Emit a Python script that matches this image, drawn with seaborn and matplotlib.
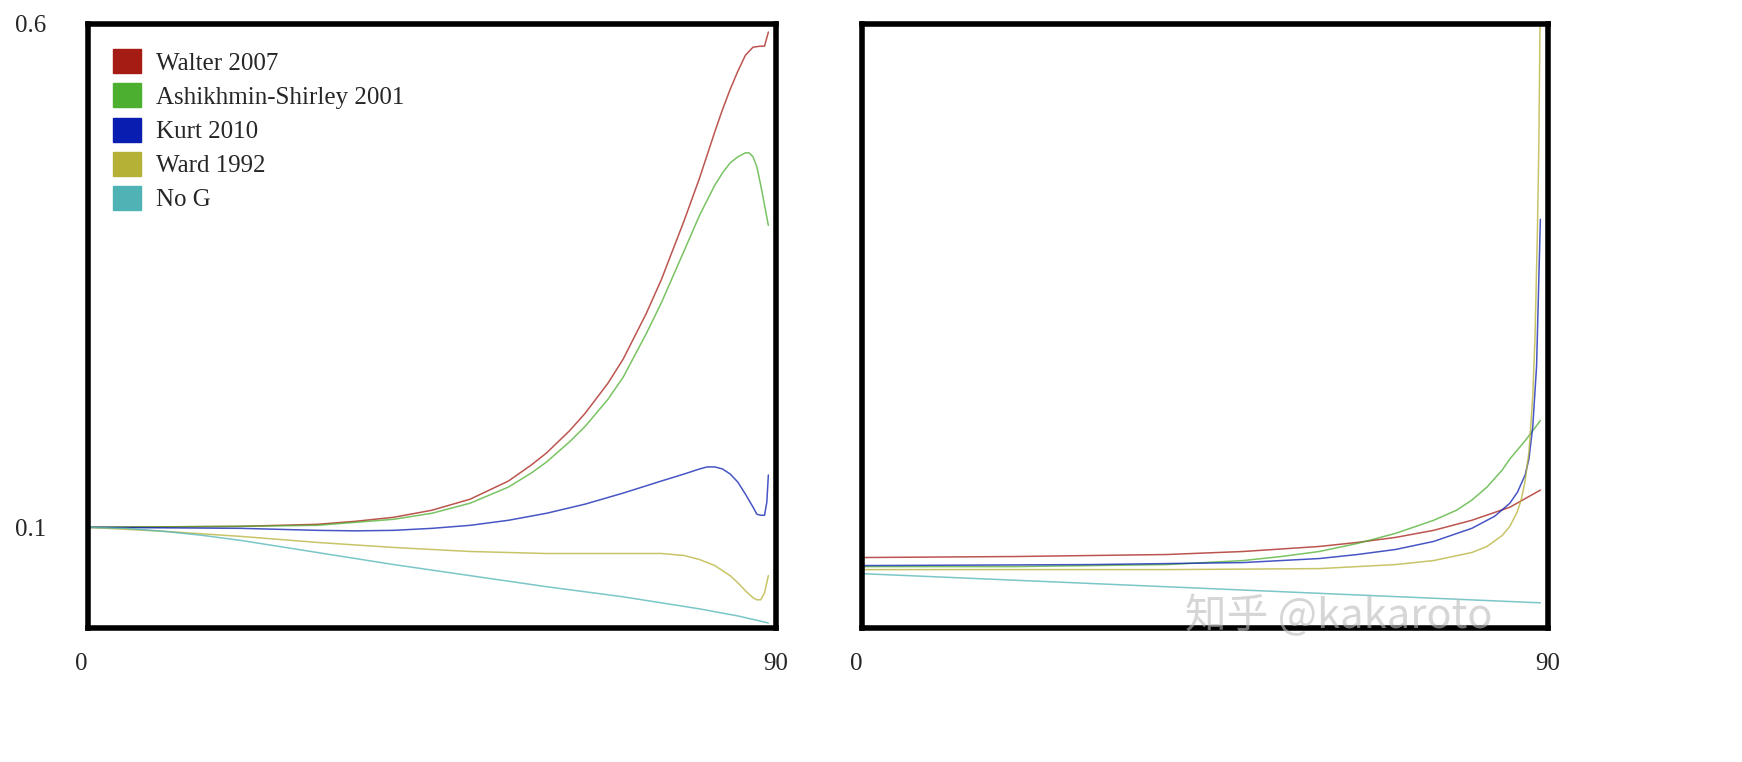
import matplotlib
matplotlib.use("Agg")
import matplotlib.pyplot as plt
import matplotlib.patches as mpatches
import seaborn as sns
import pandas as pd

sns.set_style("white")
plt.rcParams['font.family'] = ['Liberation Serif', 'Noto Sans CJK SC', 'DejaVu Sans']

names = ["Walter 2007", "Ashikhmin-Shirley 2001", "Kurt 2010", "Ward 1992", "No G"]
colors = ["#a51c14", "#4caf2f", "#0a1db1", "#b5b136", "#4fb3b5"]

# Left panel
L_walter_x = [0, 20, 30, 35, 40, 45, 50, 55, 58, 60, 63, 65, 68, 70, 73, 75, 78, 80, 82, 83, 84, 85, 86, 87, 88, 88.5, 89]
L_walter_y = [0.1, 0.101, 0.103, 0.106, 0.11, 0.117, 0.128, 0.146, 0.162, 0.174, 0.196, 0.213, 0.243, 0.267, 0.312, 0.346, 0.405, 0.447, 0.493, 0.515, 0.535, 0.553, 0.569, 0.577, 0.578, 0.578, 0.592]
L_ashi_x = [0, 20, 30, 35, 40, 45, 50, 55, 58, 60, 63, 65, 68, 70, 73, 75, 78, 80, 82, 83, 84, 85, 86, 86.5, 87, 87.5, 88, 88.5, 89]
L_ashi_y = [0.1, 0.101, 0.102, 0.105, 0.108, 0.114, 0.124, 0.14, 0.154, 0.165, 0.185, 0.2, 0.227, 0.249, 0.292, 0.323, 0.375, 0.41, 0.44, 0.452, 0.462, 0.468, 0.472, 0.472, 0.468, 0.458, 0.44, 0.42, 0.40]
L_kurt_x = [0, 20, 30, 35, 40, 45, 50, 55, 60, 65, 70, 75, 78, 80, 81, 82, 83, 84, 85, 86, 87, 87.5, 88, 88.5, 88.8, 89]
L_kurt_y = [0.1, 0.099, 0.097, 0.0965, 0.097, 0.099, 0.102, 0.107, 0.114, 0.123, 0.134, 0.146, 0.153, 0.158, 0.16, 0.16, 0.158, 0.153, 0.145, 0.133, 0.12, 0.113, 0.112, 0.112, 0.125, 0.152]
L_ward_x = [0, 10, 20, 30, 40, 50, 60, 70, 75, 78, 80, 82, 84, 85, 86, 87, 87.5, 88, 88.5, 89]
L_ward_y = [0.1, 0.096, 0.091, 0.085, 0.080, 0.076, 0.074, 0.074, 0.074, 0.072, 0.068, 0.062, 0.052, 0.045, 0.037, 0.030, 0.028, 0.028, 0.035, 0.052]
L_nog_x = [0, 5, 10, 15, 20, 25, 30, 40, 50, 60, 70, 80, 85, 89]
L_nog_y = [0.1, 0.099, 0.096, 0.092, 0.087, 0.081, 0.075, 0.063, 0.052, 0.041, 0.031, 0.019, 0.012, 0.005]

# Right panel
R_walter_x = [0, 20, 40, 50, 60, 65, 70, 75, 80, 85, 89]
R_walter_y = [0.070, 0.071, 0.073, 0.076, 0.081, 0.085, 0.090, 0.097, 0.107, 0.120, 0.137]
R_ashi_x = [0, 20, 40, 50, 55, 60, 65, 70, 75, 78, 80, 82, 84, 85, 86, 87, 88, 89]
R_ashi_y = [0.061, 0.061, 0.063, 0.067, 0.071, 0.076, 0.084, 0.094, 0.107, 0.117, 0.127, 0.140, 0.157, 0.168, 0.177, 0.186, 0.196, 0.206]
R_kurt_x = [0, 30, 50, 60, 65, 70, 75, 80, 83, 85, 86, 87, 87.5, 88, 88.5, 89]
R_kurt_y = [0.062, 0.063, 0.065, 0.069, 0.073, 0.078, 0.086, 0.099, 0.111, 0.124, 0.135, 0.152, 0.168, 0.2, 0.26, 0.406]
R_ward_x = [0, 40, 60, 65, 70, 75, 80, 82, 84, 85, 86, 86.5, 87, 87.5, 88, 88.3, 88.6, 88.8, 89]
R_ward_y = [0.058, 0.058, 0.059, 0.061, 0.063, 0.067, 0.075, 0.081, 0.092, 0.101, 0.116, 0.128, 0.146, 0.175, 0.23, 0.29, 0.39, 0.48, 0.64]
R_nog_x = [0, 89]
R_nog_y = [0.054, 0.025]

left = [(L_walter_x, L_walter_y), (L_ashi_x, L_ashi_y), (L_kurt_x, L_kurt_y), (L_ward_x, L_ward_y), (L_nog_x, L_nog_y)]
right = [(R_walter_x, R_walter_y), (R_ashi_x, R_ashi_y), (R_kurt_x, R_kurt_y), (R_ward_x, R_ward_y), (R_nog_x, R_nog_y)]

fig = plt.figure(figsize=(17.42, 7.62), dpi=100)
axL = fig.add_axes([88/1742, 134/762, 688/1742, 604/762])
axR = fig.add_axes([862/1742, 134/762, 686/1742, 604/762])

for ax, series in ((axL, left), (axR, right)):
    for (xs, ys), c, n in zip(series, colors, names):
        df = pd.DataFrame({"x": xs, "y": ys})
        sns.lineplot(data=df, x="x", y="y", ax=ax, color=c, lw=1.1, alpha=0.75)
    ax.set_xlim(0, 90)
    ax.set_ylim(0, 0.6)
    ax.set_xlabel(""); ax.set_ylabel("")
    for s in ax.spines.values():
        s.set_linewidth(4); s.set_color("black")
    ax.set_xticks([0, 90])
    ax.set_xticklabels(["0", "90"], fontsize=18)
    ax.tick_params(length=0, pad=18)
    lbls = ax.get_xticklabels()
    lbls[0].set_horizontalalignment("right")

axL.set_yticks([0.1, 0.6])
axL.set_yticklabels(["0.1", "0.6"], fontsize=18)
axL.tick_params(axis='y', pad=30)
axR.set_yticks([])

handles = [mpatches.Patch(color=c, label=n) for c, n in zip(colors, names)]
axL.legend(handles=handles, loc="upper left", frameon=False, fontsize=18,
           handlelength=1.1, handleheight=1.1, handletextpad=0.6, labelspacing=0.35,
           borderaxespad=0.6)

fig.text(0.68, 0.175, "知乎 @kakaroto", fontsize=30, color="#bbbbbb", alpha=0.6,
         family=['Noto Sans CJK SC', 'DejaVu Sans'])

fig.savefig("out.png", dpi=100)
